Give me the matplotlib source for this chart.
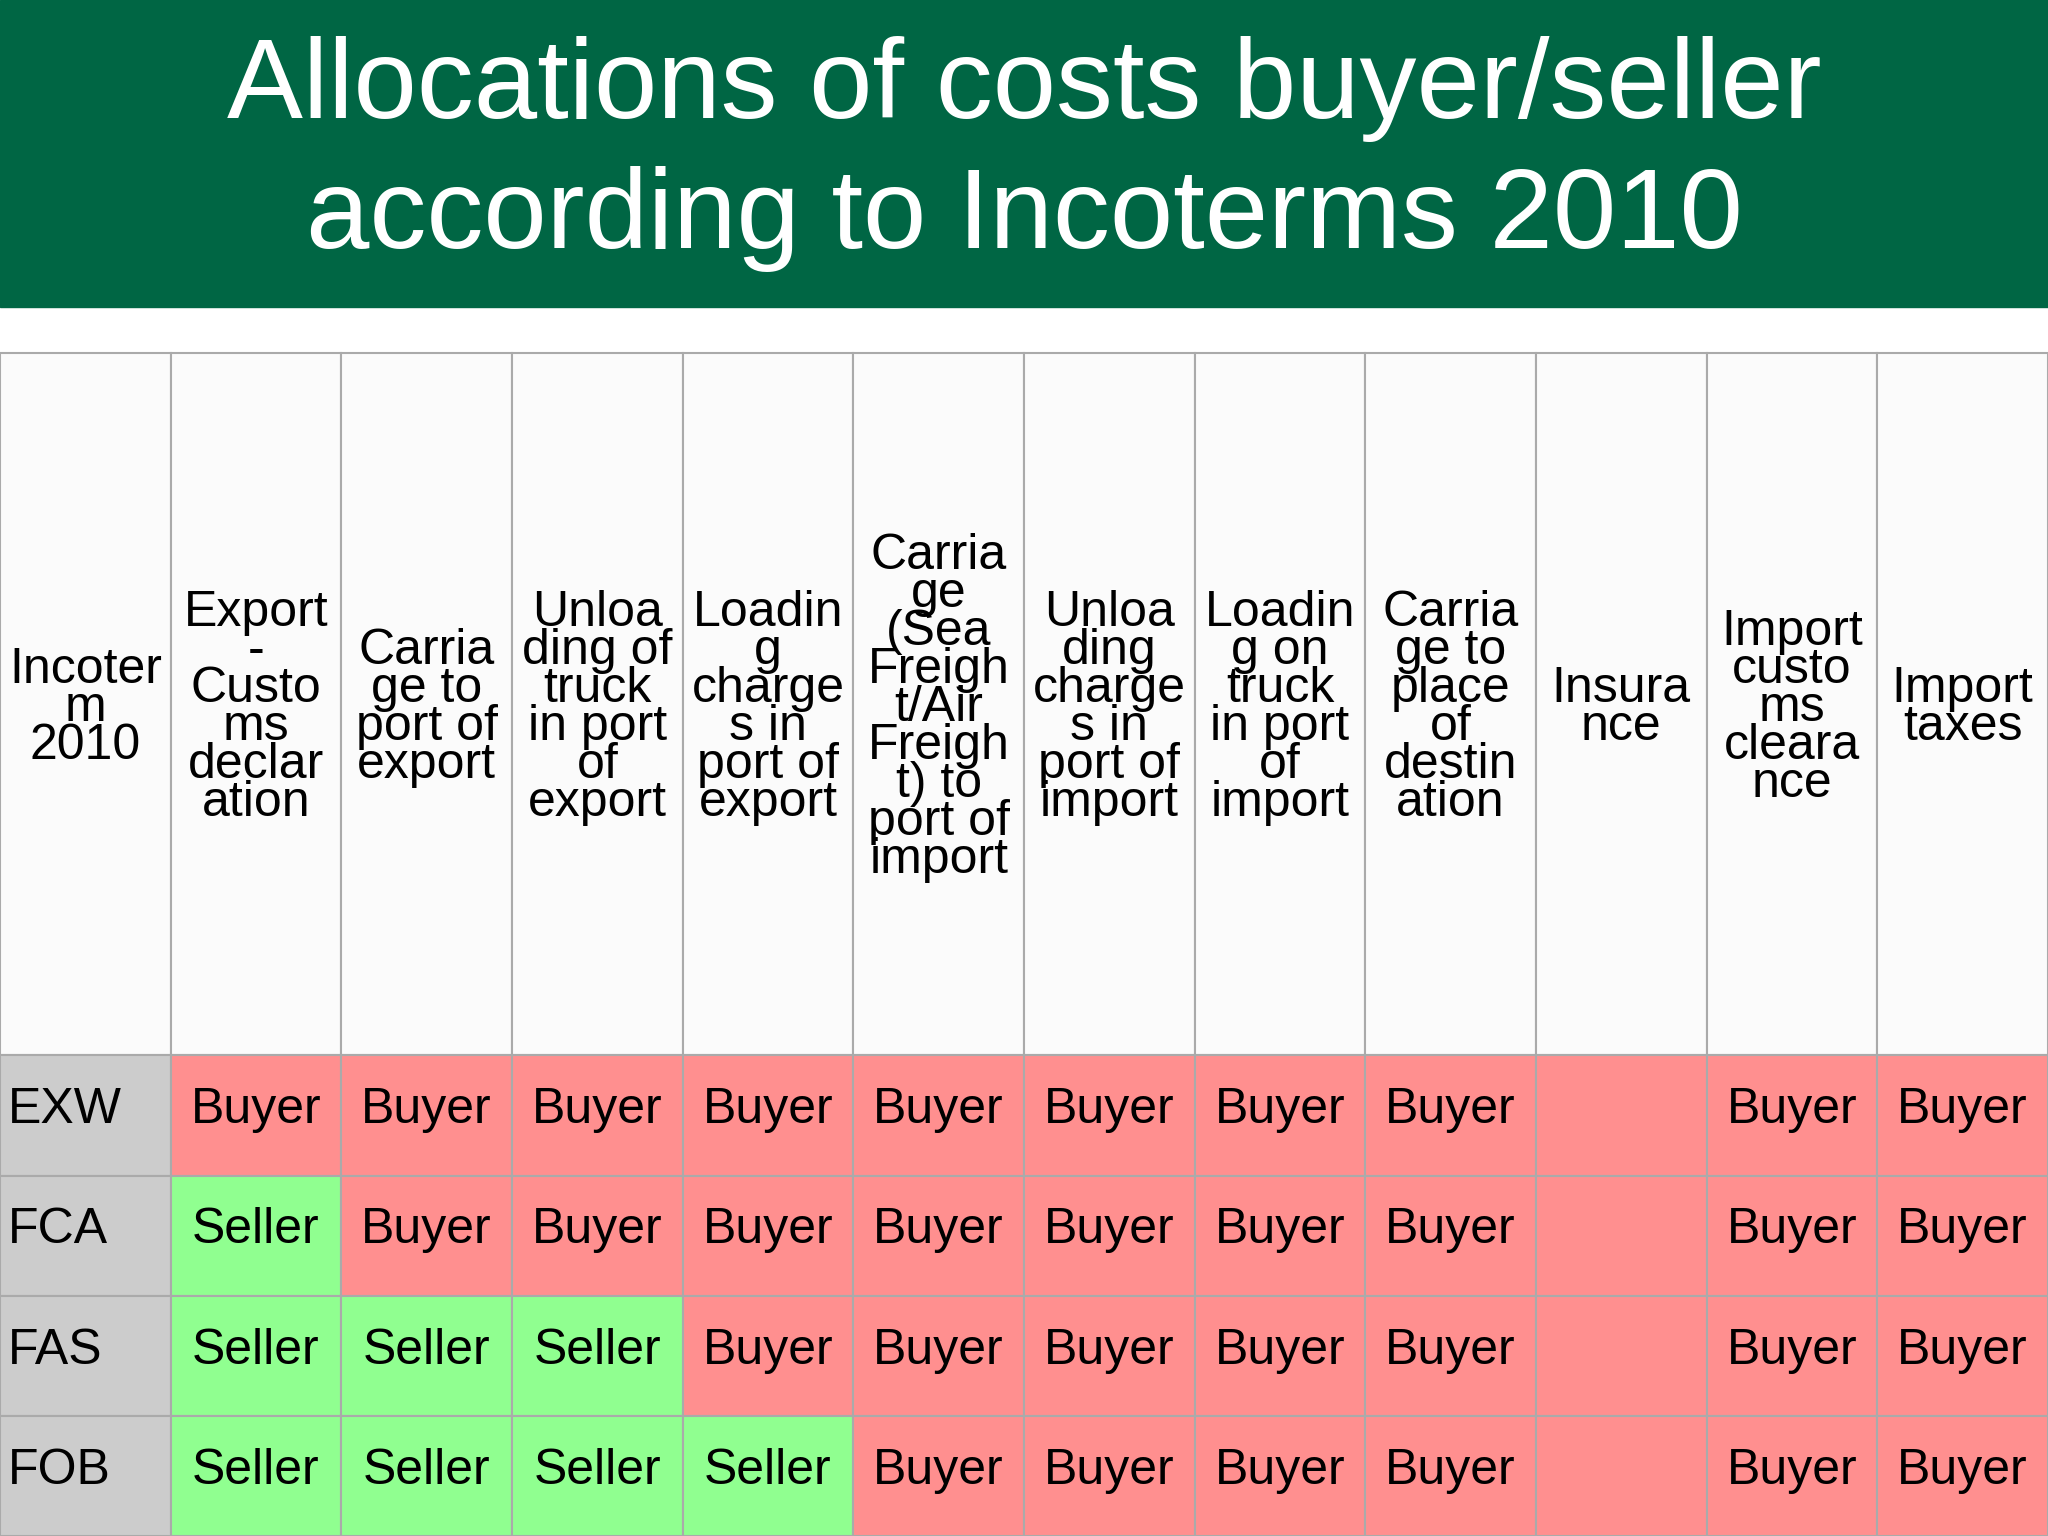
import matplotlib
matplotlib.use("Agg")
import matplotlib.pyplot as plt
from matplotlib.patches import Rectangle

plt.rcParams['font.family'] = ['Liberation Sans', 'DejaVu Sans']

title = "Allocations of costs buyer/seller\naccording to Incoterms 2010"
headers = ["Incoter\nm\n2010", "Export\n-\nCusto\nms\ndeclar\nation", "Carria\nge to\nport of\nexport",
           "Unloa\nding of\ntruck\nin port\nof\nexport", "Loadin\ng\ncharge\ns in\nport of\nexport",
           "Carria\nge\n(Sea\nFreigh\nt/Air\nFreigh\nt) to\nport of\nimport",
           "Unloa\nding\ncharge\ns in\nport of\nimport", "Loadin\ng on\ntruck\nin port\nof\nimport",
           "Carria\nge to\nplace\nof\ndestin\nation", "Insura\nnce", "Import\ncusto\nms\ncleara\nnce",
           "Import\ntaxes"]
terms = ["EXW", "FCA", "FAS", "FOB"]
values = [
    ["Buyer"] * 8 + [""] + ["Buyer"] * 2,
    ["Seller"] + ["Buyer"] * 7 + [""] + ["Buyer"] * 2,
    ["Seller"] * 3 + ["Buyer"] * 5 + [""] + ["Buyer"] * 2,
    ["Seller"] * 4 + ["Buyer"] * 4 + [""] + ["Buyer"] * 2,
]
colors = {"Buyer": "#ff8f8f", "Seller": "#90ff90", "": "#ff8f8f"}

W, H = 1568, 1176
fig = plt.figure(figsize=(20.48, 15.36), dpi=100)
ax = fig.add_axes([0, 0, 1, 1])
ax.set_xlim(0, W); ax.set_ylim(H, 0); ax.axis('off')

ax.add_patch(Rectangle((0, 0), W, 235, color="#006644"))
ax.text(W / 2, 118, title, color="white", fontsize=82, ha="center", va="center", linespacing=1.3)

top, hh, rh = 270, 538, 92
ncol = len(headers)
cw = W / ncol
grid = "#aaaaaa"
for j, h in enumerate(headers):
    x = j * cw
    ax.add_patch(Rectangle((x, top), cw, hh, facecolor="#fbfbfb", edgecolor=grid, lw=1.5))
    ax.text(x + cw / 2, top + hh / 2 + 3, h, fontsize=36, ha="center", va="center", linespacing=0.78)
for i, t in enumerate(terms):
    y = top + hh + i * rh
    ax.add_patch(Rectangle((0, y), cw, rh, facecolor="#cccccc", edgecolor=grid, lw=1.5))
    ax.text(6, y + rh / 2 - 4, t, fontsize=36, ha="left", va="center")
    for j, v in enumerate(values[i]):
        x = (j + 1) * cw
        ax.add_patch(Rectangle((x, y), cw, rh, facecolor=colors[v], edgecolor=grid, lw=1.5))
        if v:
            ax.text(x + cw / 2, y + rh / 2 - 4, v, fontsize=36, ha="center", va="center")

fig.savefig("out.png", dpi=100)
